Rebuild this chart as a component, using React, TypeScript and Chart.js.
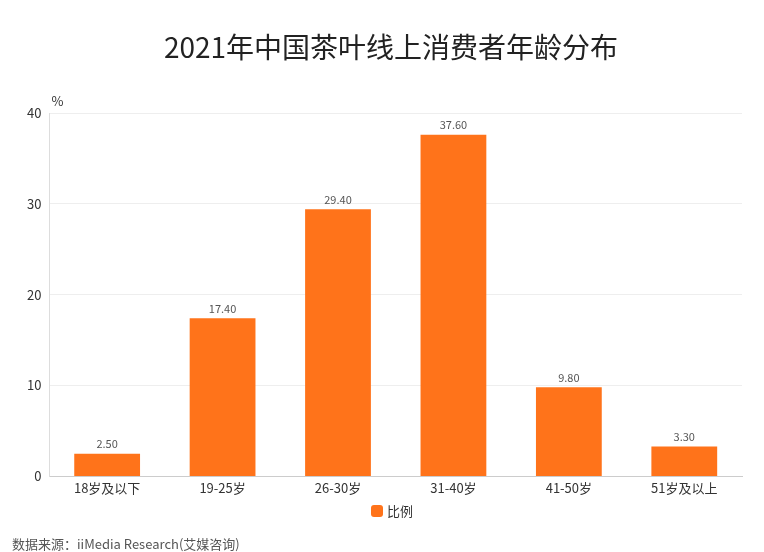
import React, { useEffect, useRef } from "react";
import { Chart, registerables } from "chart.js";

Chart.register(...registerables);

const categories = ["18岁及以下", "19-25岁", "26-30岁", "31-40岁", "41-50岁", "51岁及以上"];
const values = [2.5, 17.4, 29.4, 37.6, 9.8, 3.3];
const yTicks = [0, 10, 20, 30, 40];
const seriesName = "比例";
const titleText = "2021年中国茶叶线上消费者年龄分布";
const unitText = "%";
const sourceText = "数据来源：iiMedia Research(艾媒咨询)";

const FONT = "'Noto Sans CJK SC', 'Noto Sans', sans-serif";
const ORANGE = "#FF731A";

const extrasPlugin = {
  id: "extras",
  afterDatasetsDraw(chart: any) {
    const ctx = chart.ctx;
    const meta = chart.getDatasetMeta(0);
    ctx.save();
    ctx.font = `11px ${FONT}`;
    ctx.fillStyle = "#555";
    ctx.textAlign = "center";
    ctx.textBaseline = "bottom";
    meta.data.forEach((bar: any, i: number) => {
      ctx.fillText(values[i].toFixed(2), bar.x, bar.y - 4);
    });
    ctx.restore();
  },
  afterDraw(chart: any) {
    const ctx = chart.ctx;
    const area = chart.chartArea;
    ctx.save();
    // title
    ctx.font = `28px ${FONT}`;
    ctx.fillStyle = "#222";
    ctx.textAlign = "center";
    ctx.textBaseline = "middle";
    ctx.fillText(titleText, 391, 47);
    // unit
    ctx.font = `13px ${FONT}`;
    ctx.fillStyle = "#333";
    ctx.textAlign = "left";
    ctx.fillText(unitText, area.left + 2, area.top - 12);
    // legend
    const lw = ctx.measureText(seriesName).width;
    const total = 12 + 4 + lw;
    const lx = 392 - total / 2;
    ctx.fillStyle = ORANGE;
    ctx.beginPath();
    (ctx as any).roundRect(lx, 505, 12, 12, 3);
    ctx.fill();
    ctx.fillStyle = "#333";
    ctx.fillText(seriesName, lx + 16, 511);
    // source
    ctx.fillStyle = "#555";
    ctx.fillText(sourceText, 12, 544);
    ctx.restore();
  },
};

export default function App() {
  const ref = useRef<HTMLCanvasElement>(null);
  useEffect(() => {
    document.body.style.margin = "0";
    const chart = new Chart(ref.current!, {
      type: "bar",
      data: {
        labels: categories,
        datasets: [
          {
            label: seriesName,
            data: values,
            backgroundColor: ORANGE,
            barPercentage: 0.57,
            categoryPercentage: 1,
          },
        ],
      },
      options: {
        animation: false,
        responsive: false,
        maintainAspectRatio: false,
        layout: { padding: { left: 19, right: 22, top: 113, bottom: 56 } },
        plugins: {
          title: { display: false },
          legend: { display: false },
          tooltip: { enabled: false },
        },
        scales: {
          x: {
            grid: { display: false, drawTicks: true, tickLength: 4, color: "#ccc" },
            border: { color: "#ccc" },
            ticks: { color: "#333", font: { family: FONT, size: 13 }, padding: 0 },
          },
          y: {
            min: 0,
            max: 40,
            afterBuildTicks: (axis: any) => {
              axis.ticks = yTicks.map((v) => ({ value: v }));
            },
            grid: { color: "#eee", drawTicks: false },
            border: { color: "#ddd" },
            ticks: { color: "#333", font: { family: FONT, size: 13 }, padding: 8 },
          },
        },
      },
      plugins: [extrasPlugin],
    });
    return () => chart.destroy();
  }, []);
  return (
    <div style={{ width: 764, height: 552, background: "#fff" }}>
      <canvas ref={ref} width={764} height={552} style={{ display: "block" }} />
    </div>
  );
}
